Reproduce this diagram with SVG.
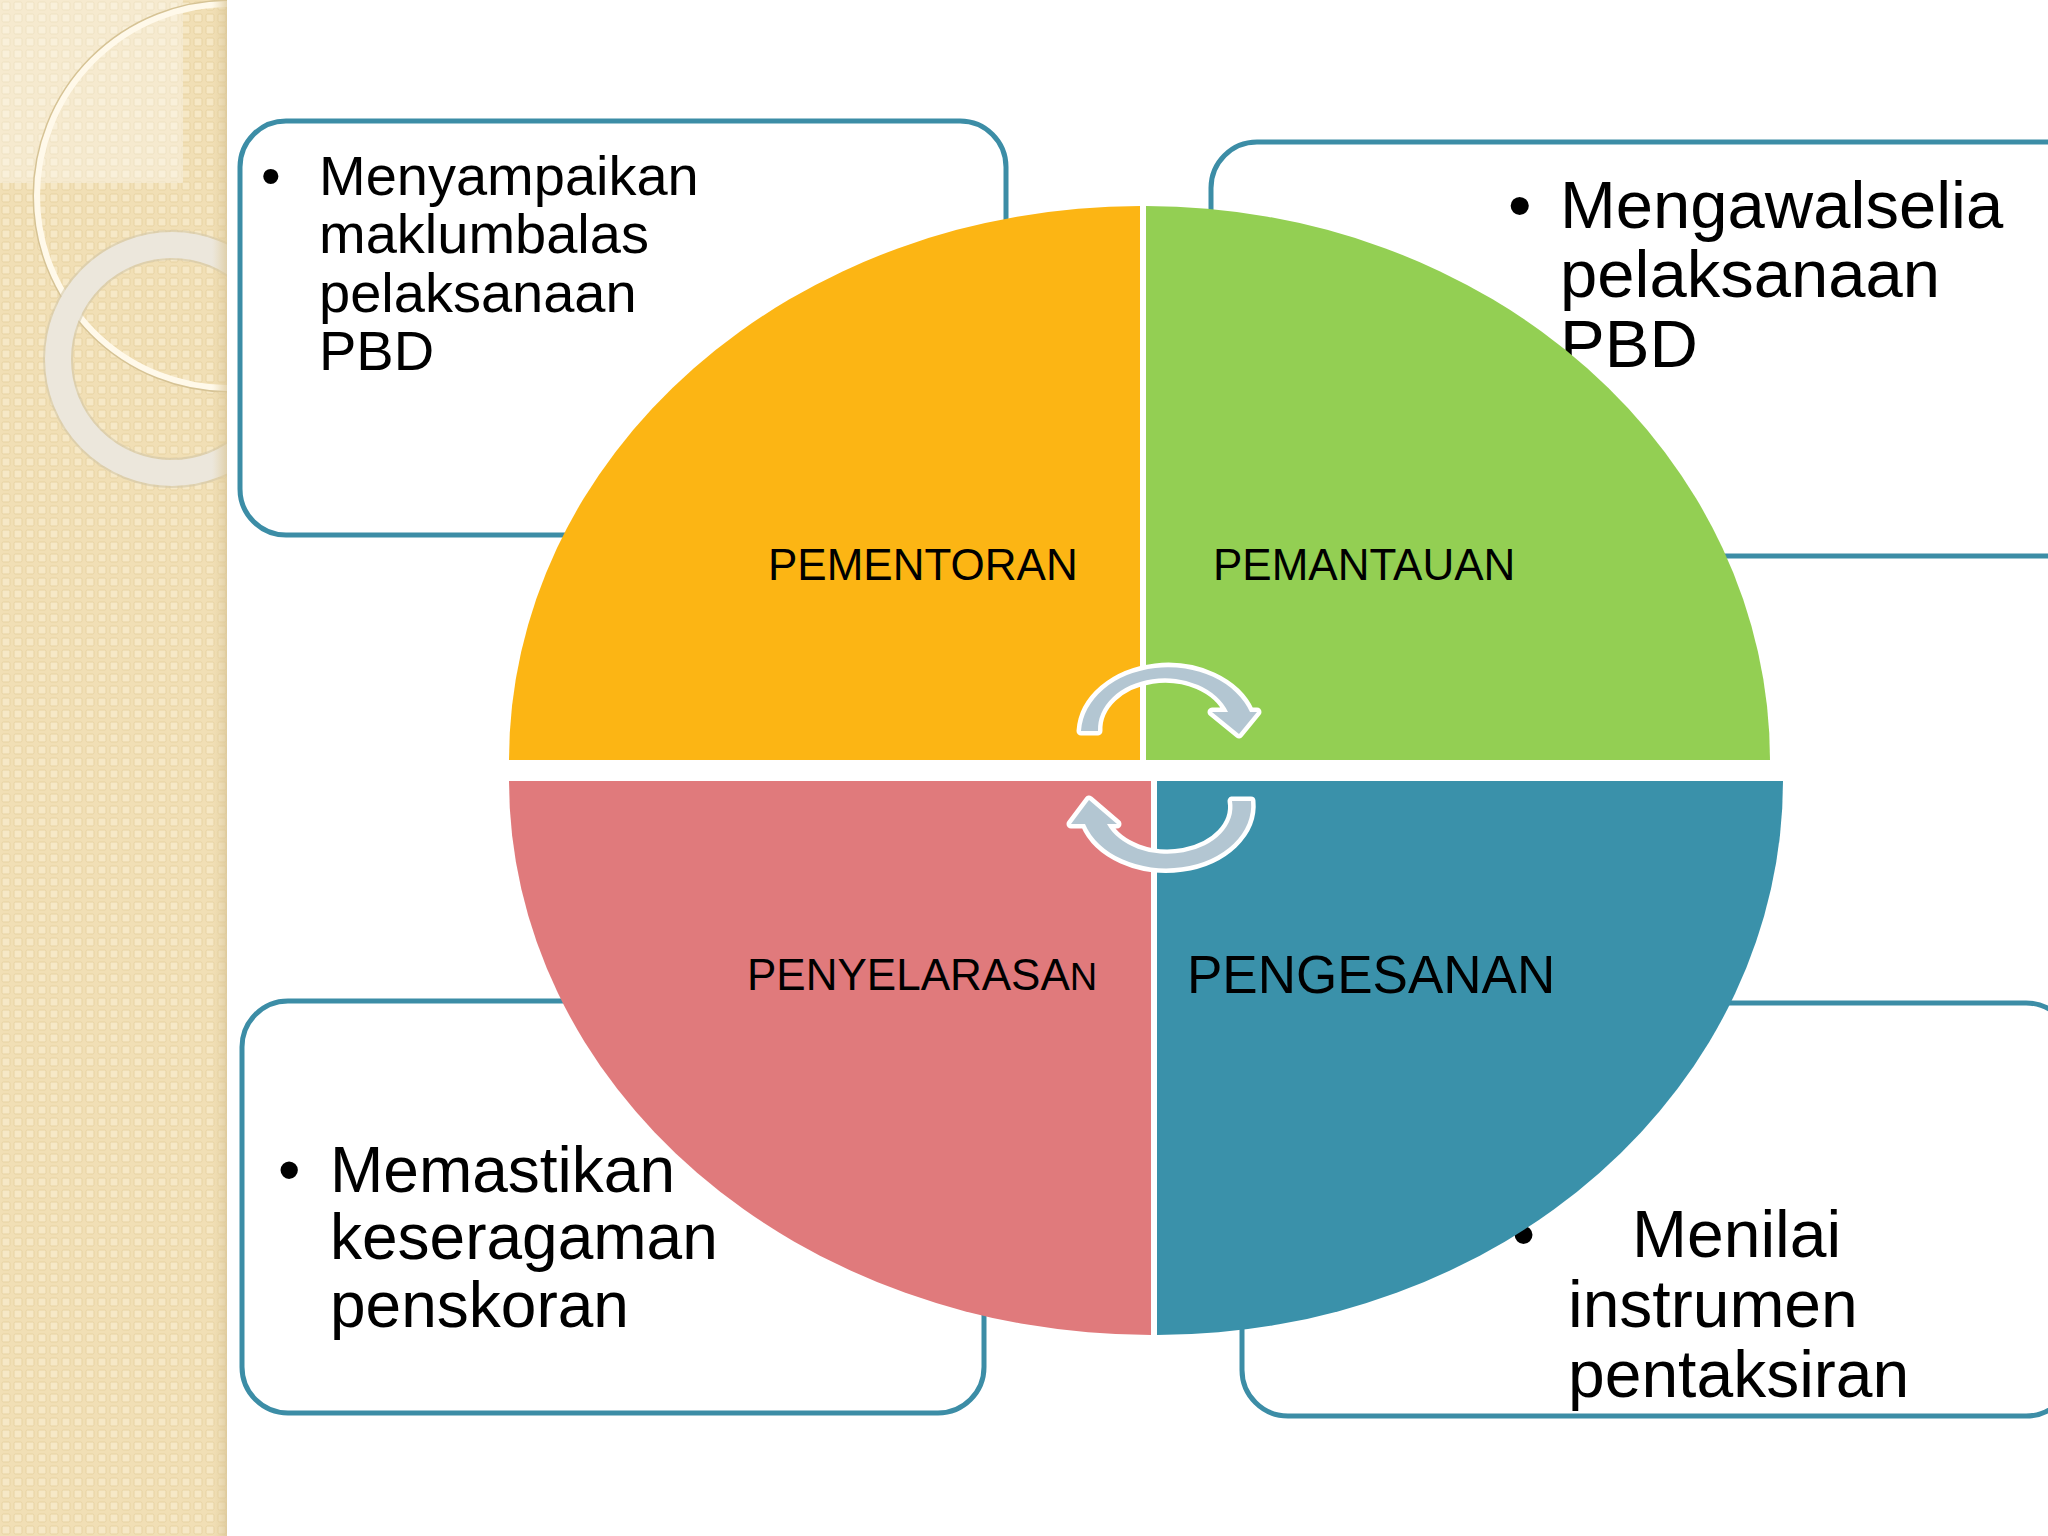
<svg xmlns="http://www.w3.org/2000/svg" width="2048" height="1536" viewBox="0 0 2048 1536">
<style>
.box{fill:#FFFFFF;stroke:#3C8DA6;stroke-width:5}
.bt{font-family:"Liberation Sans",Arial,sans-serif;fill:#000000}
.ql{font-family:"Liberation Sans",Arial,sans-serif;fill:#000000;font-size:44px}
.arr{fill:#B3C6D2;stroke:#FFFFFF;stroke-width:9;stroke-linejoin:round;paint-order:stroke}
</style>
<defs>
<pattern id="chk" x="0" y="0" width="12" height="12" patternUnits="userSpaceOnUse">
<rect x="0" y="0" width="12" height="12" fill="#F1DFB5"/>
<rect x="2" y="2" width="8" height="8" rx="1.5" fill="#F6E8C6" stroke="#E8D3A2" stroke-width="1"/>
</pattern>
<clipPath id="side"><rect x="0" y="0" width="227" height="1536"/></clipPath>
<linearGradient id="edge" x1="0" y1="0" x2="1" y2="0">
<stop offset="0" stop-color="#E6D3A6" stop-opacity="0"/>
<stop offset="1" stop-color="#D8C494" stop-opacity="0.7"/>
</linearGradient>
</defs>
<rect x="0" y="0" width="2048" height="1536" fill="#FFFFFF"/>
<g id="sidebar">
<rect x="0" y="0" width="227" height="1536" fill="url(#chk)"/>
<g clip-path="url(#side)">
<rect x="0" y="0" width="183" height="183" fill="#FFFFFF" opacity="0.35"/>
<circle cx="229" cy="196" r="195" fill="none" stroke="#D6C395" stroke-width="3"/>
<circle cx="229" cy="196" r="192" fill="none" stroke="#FFF9EA" stroke-width="6"/>
<circle cx="172" cy="359" r="114" fill="none" stroke="#D2C6A8" stroke-width="30" opacity="0.6"/>
<circle cx="172" cy="359" r="114" fill="none" stroke="#ECE7DC" stroke-width="26"/>
</g>
<rect x="212" y="0" width="15" height="1536" fill="url(#edge)"/>
</g>
<g id="box-menyampaikan">
<rect class="box" x="240" y="121" width="766" height="414" rx="46"/>
<text class="bt" font-size="56" x="261" y="195">•</text>
<text class="bt" font-size="56"><tspan x="319" y="195">Menyampaikan</tspan><tspan x="319" y="253">maklumbalas</tspan><tspan x="319" y="312">pelaksanaan</tspan><tspan x="319" y="370">PBD</tspan></text>
</g>
<g id="box-mengawalselia">
<rect class="box" x="1211" y="142" width="900" height="414" rx="46"/>
<text class="bt" font-size="67" x="1508" y="228">•</text>
<text class="bt" font-size="67"><tspan x="1560" y="228">Mengawalselia</tspan><tspan x="1560" y="297">pelaksanaan</tspan><tspan x="1560" y="367">PBD</tspan></text>
</g>
<g id="box-memastikan">
<rect class="box" x="242" y="1001" width="742" height="412" rx="46"/>
<text class="bt" font-size="64" x="278" y="1192">•</text>
<text class="bt" font-size="64"><tspan x="330" y="1192">Memastikan</tspan><tspan x="330" y="1259">keseragaman</tspan><tspan x="330" y="1327">penskoran</tspan></text>
</g>
<g id="box-menilai">
<rect class="box" x="1242" y="1003" width="830" height="413" rx="46"/>
<text class="bt" font-size="66" x="1512" y="1257">•</text>
<text class="bt" font-size="66"><tspan x="1632" y="1257">Menilai</tspan><tspan x="1568" y="1327">instrumen</tspan><tspan x="1568" y="1397">pentaksiran</tspan></text>
</g>
<g id="q-pementoran">
<path d="M 1140 760 L 509 760 A 631 554 0 0 1 1140 206 Z" fill="#FCB514"/>
<text class="ql" x="768" y="580">PEMENTORAN</text>
</g>
<g id="q-pemantauan">
<path d="M 1146 760 L 1146 206 A 624 554 0 0 1 1770 760 Z" fill="#93CF53"/>
<text class="ql" x="1213" y="580">PEMANTAUAN</text>
</g>
<g id="q-penyelarasan">
<path d="M 1151 781 L 1151 1335 A 642 554 0 0 1 509 781 Z" fill="#E07A7C"/>
<text class="ql" x="747" y="990">PENYELARASA<tspan style="font-size:38px">N</tspan></text>
</g>
<g id="q-pengesanan">
<path d="M 1157 781 L 1783 781 A 626 554 0 0 1 1157 1335 Z" fill="#3A91AA"/>
<text class="ql" x="1187" y="993" style="font-size:53px">PENGESANAN</text>
</g>
<g id="connectors">
<path class="arr" d="M 1081 731 A 87 67 0 0 1 1250 712 L 1257 712 L 1239 734 L 1212 712 L 1228 712 A 67 51 0 0 0 1098 731 Z"/>
<path class="arr" d="M 1251 801 A 85 63 0 0 1 1085 824 L 1071 824 L 1089 800 L 1117 824 L 1107 824 A 65 47 0 0 0 1232 801 Z"/>
</g>
</svg>
